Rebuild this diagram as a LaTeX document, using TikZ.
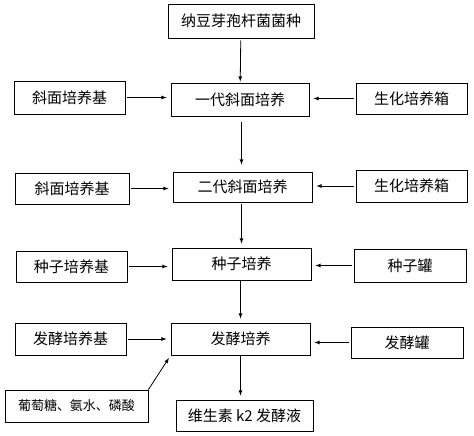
\documentclass[tikz,border=0pt]{standalone}
\usepackage{fontspec}
\newfontfamily\cjk{Noto Sans CJK SC}
\usetikzlibrary{arrows}

\begin{document}
\begin{tikzpicture}[x=1pt, y=-1pt, >=latex,
   box/.style={draw, line width=0.8pt, inner sep=0pt, font=\cjk\fontsize{15}{17}\selectfont},
   flow/.style={->, line width=0.8pt, shorten <=2pt, shorten >=4pt}]
   \useasboundingbox[fill=white] (0,0) rectangle (474,436);
   % main column
   \node[box, minimum width=146pt, minimum height=34pt] (Seed) at (241,21) {纳豆芽孢杆菌菌种};
   \node[box, minimum width=138pt, minimum height=33pt] (Gen1) at (240,99.5) {一代斜面培养};
   \node[box, minimum width=139pt, minimum height=30pt] (Gen2) at (242.5,187) {二代斜面培养};
   \node[box, minimum width=139pt, minimum height=32pt] (SeedCult) at (241.5,264) {种子培养};
   \node[box, minimum width=139pt, minimum height=32pt] (Ferm) at (240.5,339) {发酵培养};
   \node[box, minimum width=137pt, minimum height=31pt] (Broth) at (244.5,415.5) {维生素 k2 发酵液};
   % left column
   \node[box, minimum width=111pt, minimum height=33pt] (Slant1) at (69.5,97.5) {斜面培养基};
   \node[box, minimum width=114pt, minimum height=31pt] (Slant2) at (72,188.5) {斜面培养基};
   \node[box, minimum width=111pt, minimum height=31pt] (SeedMed) at (71.5,266.5) {种子培养基};
   \node[box, minimum width=111pt, minimum height=32pt] (FermMed) at (70.5,339) {发酵培养基};
   \node[box, minimum width=143pt, minimum height=32pt, font=\cjk\fontsize{13}{15}\selectfont] (Feed) at (76.5,406) {葡萄糖、氨水、磷酸};
   % right column
   \node[box, minimum width=111pt, minimum height=31pt] (Incub1) at (411.5,98.5) {生化培养箱};
   \node[box, minimum width=111pt, minimum height=32pt] (Incub2) at (411.5,186) {生化培养箱};
   \node[box, minimum width=112pt, minimum height=33pt] (SeedTank) at (410,265.5) {种子罐};
   \node[box, minimum width=112pt, minimum height=31pt] (FermTank) at (407,342.5) {发酵罐};
   % down the column
   \draw[flow, shorten >=1pt] (Seed) -- (Gen1);
   \draw[flow, shorten <=6pt, shorten >=7pt] (Gen1.south -| SeedCult) -- (Gen2.north -| SeedCult);
   \draw[flow] (Gen2.south -| SeedCult) -- (SeedCult.north -| SeedCult);
   \draw[flow, shorten <=0pt] (SeedCult.south -| Ferm) -- (Ferm.north -| Ferm);
   \draw[flow, shorten <=0pt] (Ferm.south) -- (Ferm.south |- Broth.north);
   % from the left
   \draw[flow] (Slant1.east) -- (Slant1.east -| Gen1.west);
   \draw[flow] (Slant2.east) -- (Slant2.east -| Gen2.west);
   \draw[flow] (SeedMed.east) -- (SeedMed.east -| SeedCult.west);
   \draw[flow] (FermMed.east) -- (FermMed.east -| Ferm.west);
   \draw[flow, shorten <=0pt, shorten >=3pt] (Feed.north east) -- (Ferm.south west);
   % from the right
   \draw[flow] (Incub1.west) -- (Incub1.west -| Gen1.east);
   \draw[flow] (Incub2.west) -- (Incub2.west -| Gen2.east);
   \draw[flow] (SeedTank.west) -- (SeedTank.west -| SeedCult.east);
   \draw[flow] (FermTank.west) -- (FermTank.west -| Ferm.east);
\end{tikzpicture}
\end{document}
